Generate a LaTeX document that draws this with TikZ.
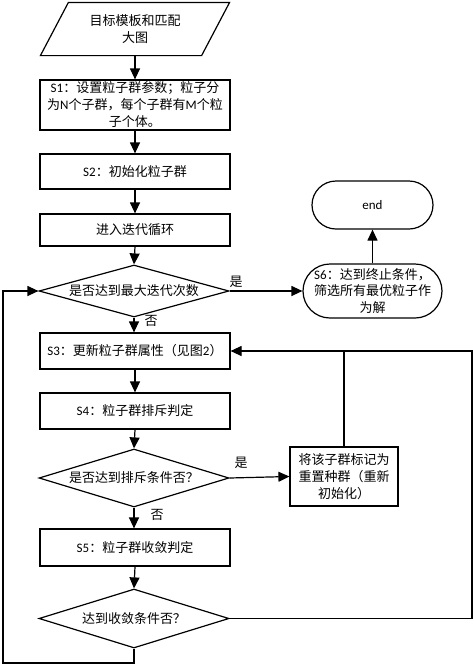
\documentclass[tikz,border=0pt]{standalone}
\usepackage{fontspec}
\setmainfont{Noto Sans CJK SC}
\newfontfamily\lat{Carlito}
\usetikzlibrary{arrows.meta,shapes.geometric}
\begin{document}
\begin{tikzpicture}[x=1pt,y=-1pt,
  line width=1.2pt,
  font=\fontsize{13}{17}\selectfont,
  box/.style={draw,rectangle,minimum width=190pt,inner sep=0pt,align=center},
  dec/.style={draw,diamond,aspect=3.65,minimum width=190pt,inner sep=0pt,align=center},
  term/.style={draw,rectangle,rounded corners=#1,inner sep=0pt,align=center},
  arr/.style={-{Triangle[length=11pt,width=10pt]}},
  lbl/.style={inner sep=0pt}
]
\useasboundingbox (0,0) rectangle (474,665);
% input parallelogram
\node[minimum width=160pt,minimum height=52pt,inner sep=0pt,align=center] (in) at (135,29) {目标模板和匹配\\大图};
\draw ([xshift=14pt]in.north west) -- ([xshift=14pt]in.north east) -- ([xshift=-14pt]in.south east) -- ([xshift=-14pt]in.south west) -- cycle;
\node[box,minimum height=50pt] (s1) at (135,105) {{\lat S1}：设置粒子群参数；粒子分\\为{\lat N}个子群，每个子群有{\lat M}个粒\\子个体。};
\node[box,minimum height=35pt] (s2) at (135,171.5) {{\lat S2}：初始化粒子群};
\node[box,minimum height=32pt] (loop) at (135,230) {进入迭代循环};
\node[dec,minimum height=52pt] (d1) at (134,291) {是否达到最大迭代次数};
\node[box,minimum height=36pt] (s3) at (135,351) {{\lat S3}：更新粒子群属性（见图{\lat 2}）};
\node[box,minimum height=36pt] (s4) at (135,411) {{\lat S4}：粒子群排斥判定};
\node[dec,minimum height=58pt] (d2) at (134,478) {是否达到排斥条件否？};
\node[draw,rectangle,minimum width=108pt,minimum height=59pt,inner sep=0pt,align=center] (reset) at (344,476.5) {将该子群标记为\\重置种群（重新\\初始化）};
\node[box,minimum height=37pt] (s5) at (135,547.5) {{\lat S5}：粒子群收敛判定};
\node[dec,minimum height=59pt] (d3) at (134,618.5) {达到收敛条件否？};
\node[term=27pt,minimum width=139pt,minimum height=54pt,font=\fontsize{13}{16.5}\selectfont] (s6) at (372.5,291) {{\lat S6}：达到终止条件，\\筛选所有最优粒子作\\为解};
\node[term=24pt,minimum width=121pt,minimum height=48pt] (end) at (372.5,205) {\lat end};
% labels
\node[lbl] (y1) at (236,282) {是};
\node[lbl] (n1) at (151,321) {否};
\node[lbl] (y2) at (241,463) {是};
\node[lbl] (n2) at (157,515) {否};
% helper coordinates
\coordinate (r1) at (472,618.5);
\coordinate (b1) at (134,663);
\coordinate (l1) at (3,663);
% connectors
\draw[arr] (in.south -| s1.north) -- (s1.north);
\draw[arr] (s1) -- (s2);
\draw[arr] (s2) -- (loop);
\draw[arr] (loop.south) -- (d1.north);
\draw[arr] (d1.south) -- (d1.south |- s3.north);
\draw[arr] (s3) -- (s4);
\draw[arr] (s4.south) -- (d2.north);
\draw[arr] (d2.south) -- (d2.south |- s5.north);
\draw[arr] (s5.south) -- (d3.north);
\draw[arr] (d1.east) -- (s6.west);
\draw[arr] (s6.north) -- (end.south);
\draw[arr] (d2.east) -- (reset.west);
\draw[arr] (d3.east) -- (r1) |- (s3.east);
\draw (reset.north) -- (reset.north |- s3.east);
\draw[arr] (d3.south) -- (b1) -- (l1) |- (d1.west);
\end{tikzpicture}
\end{document}
